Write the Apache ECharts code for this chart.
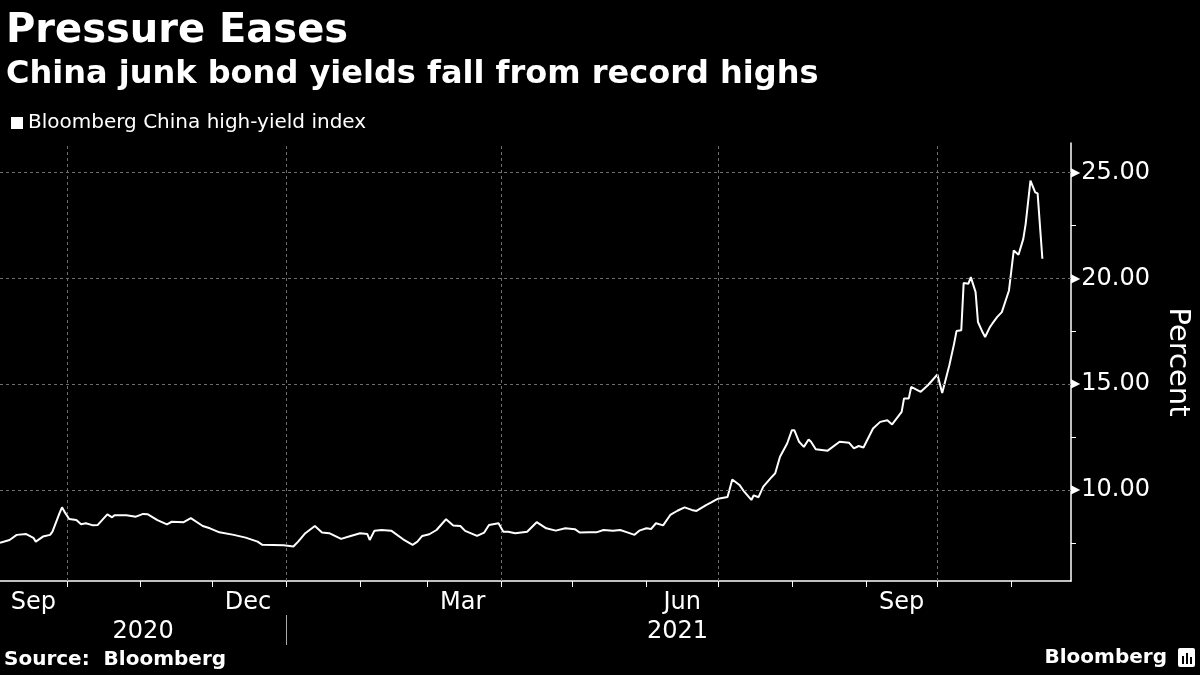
<!DOCTYPE html>
<html>
<head>
<meta charset="utf-8">
<title>Pressure Eases</title>
<script src="https://cdn.jsdelivr.net/npm/echarts@6.0.0/dist/echarts.min.js"></script>
<style>
  html, body { margin: 0; padding: 0; background: #000; }
  #chart { width: 1200px; height: 675px; }
</style>
</head>
<body>
<div id="chart"></div>
<script>
'use strict';

// 数据：彭博中国高收益债指数收益率（%）
var dates = [
  '2020-09-03','2020-09-07','2020-09-10','2020-09-14','2020-09-17','2020-09-18','2020-09-21','2020-09-24',
  '2020-09-25','2020-09-28','2020-09-29','2020-09-30','2020-10-02','2020-10-05','2020-10-07','2020-10-09',
  '2020-10-12','2020-10-14','2020-10-18','2020-10-20','2020-10-21','2020-10-26','2020-10-30','2020-11-02',
  '2020-11-04','2020-11-08','2020-11-12','2020-11-14','2020-11-19','2020-11-22','2020-11-27','2020-11-30',
  '2020-12-04','2020-12-10','2020-12-15','2020-12-20','2020-12-22','2020-12-31','2021-01-04','2021-01-06',
  '2021-01-09','2021-01-13','2021-01-16','2021-01-19','2021-01-24','2021-01-28','2021-02-01','2021-02-04',
  '2021-02-05','2021-02-07','2021-02-10','2021-02-14','2021-02-19','2021-02-23','2021-02-25','2021-02-27',
  '2021-03-02','2021-03-05','2021-03-09','2021-03-12','2021-03-15','2021-03-17','2021-03-22','2021-03-25',
  '2021-03-27','2021-03-31','2021-04-02','2021-04-04','2021-04-07','2021-04-12','2021-04-16','2021-04-20',
  '2021-04-24','2021-04-28','2021-05-02','2021-05-04','2021-05-08','2021-05-11','2021-05-14','2021-05-18',
  '2021-05-21','2021-05-24','2021-05-27','2021-05-29','2021-06-01','2021-06-03','2021-06-05','2021-06-08',
  '2021-06-11','2021-06-14','2021-06-17','2021-06-20','2021-06-22','2021-06-26','2021-06-28','2021-07-01',
  '2021-07-05','2021-07-07','2021-07-10','2021-07-12','2021-07-15','2021-07-16','2021-07-18','2021-07-20',
  '2021-07-23','2021-07-25','2021-07-27','2021-07-30','2021-08-01','2021-08-02','2021-08-04','2021-08-06',
  '2021-08-08','2021-08-09','2021-08-11','2021-08-16','2021-08-21','2021-08-25','2021-08-27','2021-08-29',
  '2021-08-31','2021-09-04','2021-09-07','2021-09-10','2021-09-12','2021-09-16','2021-09-17','2021-09-19',
  '2021-09-20','2021-09-24','2021-09-27','2021-10-01','2021-10-03','2021-10-06','2021-10-08','2021-10-09',
  '2021-10-11','2021-10-12','2021-10-14','2021-10-15','2021-10-17','2021-10-18','2021-10-20','2021-10-21',
  '2021-10-23','2021-10-24','2021-10-26','2021-10-28','2021-10-31','2021-11-02','2021-11-04','2021-11-06',
  '2021-11-07','2021-11-09','2021-11-11','2021-11-12','2021-11-14'
];
var yields = [
  7.51, 7.64, 7.88, 7.92, 7.74, 7.56, 7.80, 7.88,
  8.03, 8.92, 9.18, 8.98, 8.63, 8.58, 8.38, 8.43,
  8.33, 8.35, 8.85, 8.71, 8.81, 8.81, 8.74, 8.87,
  8.85, 8.58, 8.38, 8.50, 8.48, 8.67, 8.30, 8.19,
  8.00, 7.88, 7.75, 7.56, 7.41, 7.39, 7.33, 7.56,
  7.96, 8.30, 7.99, 7.96, 7.69, 7.83, 7.96, 7.92,
  7.64, 8.08, 8.11, 8.08, 7.67, 7.41, 7.56, 7.83,
  7.91, 8.11, 8.62, 8.32, 8.30, 8.07, 7.83, 7.99,
  8.35, 8.43, 8.03, 8.03, 7.96, 8.03, 8.48, 8.19,
  8.08, 8.19, 8.15, 7.99, 8.00, 8.00, 8.11, 8.07,
  8.11, 8.00, 7.88, 8.08, 8.19, 8.16, 8.43, 8.33,
  8.82, 9.02, 9.18, 9.06, 9.01, 9.29, 9.40, 9.59,
  9.67, 10.50, 10.24, 9.92, 9.53, 9.75, 9.66, 10.16,
  10.55, 10.79, 11.57, 12.20, 12.83, 12.83, 12.28, 12.04,
  12.39, 12.28, 11.93, 11.86, 12.28, 12.23, 11.97, 12.08,
  12.01, 12.91, 13.22, 13.30, 13.10, 13.69, 14.33, 14.33,
  14.87, 14.64, 14.95, 15.46, 14.59, 15.90, 16.92, 17.51,
  17.55, 19.78, 19.75, 20.06, 19.35, 17.94, 17.44, 17.23,
  17.70, 17.86, 18.17, 18.41, 19.43, 21.32, 21.12, 21.87,
  22.58, 24.62, 24.07, 24.02, 20.93
];

// 坐标轴
var axisStart = '2020-09-03';
var axisEnd = '2021-11-26';
var monthTicks = ['2020-10-01','2020-11-01','2020-12-01','2021-01-01','2021-02-01','2021-03-01','2021-04-01',
  '2021-05-01','2021-06-01','2021-07-01','2021-08-01','2021-09-01','2021-10-01','2021-11-01'];
var monthLabelDates = ['2020-09-17','2020-12-16','2021-03-16','2021-06-16','2021-09-16'];
var monthLabels = ['Sep','Dec','Mar','Jun','Sep'];
var yearLabelDates = ['2020-11-02','2021-06-14'];
var yearLabels = ['2020','2021'];
var yearBreaks = ['2021-01-01'];
var gridDates = ['2020-10-01','2021-01-01','2021-04-01','2021-07-01','2021-10-01'];
var yTicks = [7.5, 10, 12.5, 15, 17.5, 20, 22.5, 25];
var yLabels = [10, 15, 20, 25];

var FONT = 'DejaVu Sans';

// 日期字符串 -> 毫秒时间戳（UTC）
function ts(s) {
  var p = s.split('-');
  return Date.UTC(+p[0], +p[1] - 1, +p[2]);
}

function labelFor(value, tsList, names) {
  var best = 0;
  for (var i = 1; i < tsList.length; i++) {
    if (Math.abs(tsList[i] - value) < Math.abs(tsList[best] - value)) best = i;
  }
  return names[best];
}

function buildChart() {
  var myChart = echarts.init(document.getElementById('chart'));

  var seriesData = dates.map(function(d, i) { return [ts(d), yields[i]]; });
  var monthLabelTs = monthLabelDates.map(ts);
  var yearLabelTs = yearLabelDates.map(ts);

  // 网格虚线
  var gridLines = [];
  gridDates.forEach(function(d) { gridLines.push({ xAxis: ts(d) }); });
  yLabels.forEach(function(v) { gridLines.push({ yAxis: v }); });

  var option = {
    backgroundColor: '#000',
    animation: false,
    title: [
      {
        text: 'Pressure Eases',
        left: 1, top: 7,
        textStyle: { color: '#fff', fontFamily: FONT, fontWeight: 'bold', fontSize: 40 }
      },
      {
        text: 'China junk bond yields fall from record highs',
        left: 1, top: 54,
        textStyle: { color: '#fff', fontFamily: FONT, fontWeight: 'bold', fontSize: 32 }
      }
    ],
    legend: {
      left: 11, top: 113,
      padding: 0,
      icon: 'rect', itemWidth: 12, itemHeight: 12,
      textStyle: { color: '#fff', fontFamily: FONT, fontSize: 20 },
      data: ['Bloomberg China high-yield index']
    },
    grid: { left: 0, right: 122, top: 143, bottom: 94, containLabel: false },
    xAxis: [
      {
        type: 'value',
        min: ts(axisStart), max: ts(axisEnd),
        axisLine: { lineStyle: { color: '#fff', width: 1.5 } },
        axisTick: { customValues: monthTicks.map(ts), length: 6, lineStyle: { color: '#fff', width: 1 } },
        axisLabel: {
          customValues: monthLabelTs,
          margin: 10,
          color: '#fff', fontFamily: FONT, fontSize: 24,
          formatter: function(value) { return labelFor(value, monthLabelTs, monthLabels); }
        },
        splitLine: { show: false }
      },
      {
        type: 'value',
        position: 'bottom',
        offset: 34,
        min: ts(axisStart), max: ts(axisEnd),
        axisLine: { show: false },
        axisTick: { customValues: yearBreaks.map(ts), length: 30, lineStyle: { color: '#aaa', width: 1 } },
        axisLabel: {
          customValues: yearLabelTs,
          margin: 5,
          color: '#fff', fontFamily: FONT, fontSize: 24,
          formatter: function(value) { return labelFor(value, yearLabelTs, yearLabels); }
        },
        splitLine: { show: false }
      }
    ],
    yAxis: {
      type: 'value',
      position: 'right',
      min: 5.7, max: 26.4,
      name: 'Percent',
      nameLocation: 'middle',
      nameRotate: -90,
      nameGap: 92,
      nameTextStyle: { color: '#fff', fontFamily: FONT, fontSize: 29 },
      axisLine: { show: true, lineStyle: { color: '#fff', width: 1.5 } },
      axisTick: { show: true, customValues: yTicks, length: 5, lineStyle: { color: '#fff' } },
      axisLabel: {
        customValues: yLabels,
        margin: 0,
        color: '#fff',
        formatter: function(value) { return '{t|\u25B6}{v|' + value.toFixed(2) + '}'; },
        rich: {
          t: { color: '#fff', fontFamily: FONT, fontSize: 12, padding: [0, 1, 0, 0] },
          v: { color: '#fff', fontFamily: FONT, fontSize: 24 }
        }
      },
      splitLine: { show: false }
    },
    series: [
      {
        name: 'Bloomberg China high-yield index',
        type: 'line',
        xAxisIndex: 0,
        data: seriesData,
        showSymbol: false,
        symbol: 'none',
        color: '#fff',
        lineStyle: { color: '#fff', width: 2 },
        markLine: {
          silent: true,
          symbol: ['none', 'none'],
          label: { show: false },
          lineStyle: { color: '#6e6e6e', type: [3, 3], width: 1 },
          data: gridLines
        },
        z: 3
      }
    ],
    graphic: [
      {
        type: 'text', left: 4, top: 650,
        style: { text: 'Source:  Bloomberg', fill: '#fff', font: 'bold 20px "DejaVu Sans"' }
      },
      {
        type: 'text', right: 33, top: 648,
        style: { text: 'Bloomberg', fill: '#fff', font: 'bold 20px "DejaVu Sans"' }
      },
      {
        type: 'group', right: 5, top: 648,
        children: [
          { type: 'rect', shape: { x: 0, y: 0, width: 17, height: 19, r: 2 }, style: { fill: '#fff' } },
          { type: 'rect', shape: { x: 4, y: 8, width: 2, height: 8 }, style: { fill: '#000' } },
          { type: 'rect', shape: { x: 8, y: 5, width: 2, height: 11 }, style: { fill: '#000' } },
          { type: 'rect', shape: { x: 12, y: 9, width: 2, height: 7 }, style: { fill: '#000' } }
        ]
      }
    ]
  };

  myChart.setOption(option);
}

window.onload = function() {
  buildChart();
};
</script>
</body>
</html>
